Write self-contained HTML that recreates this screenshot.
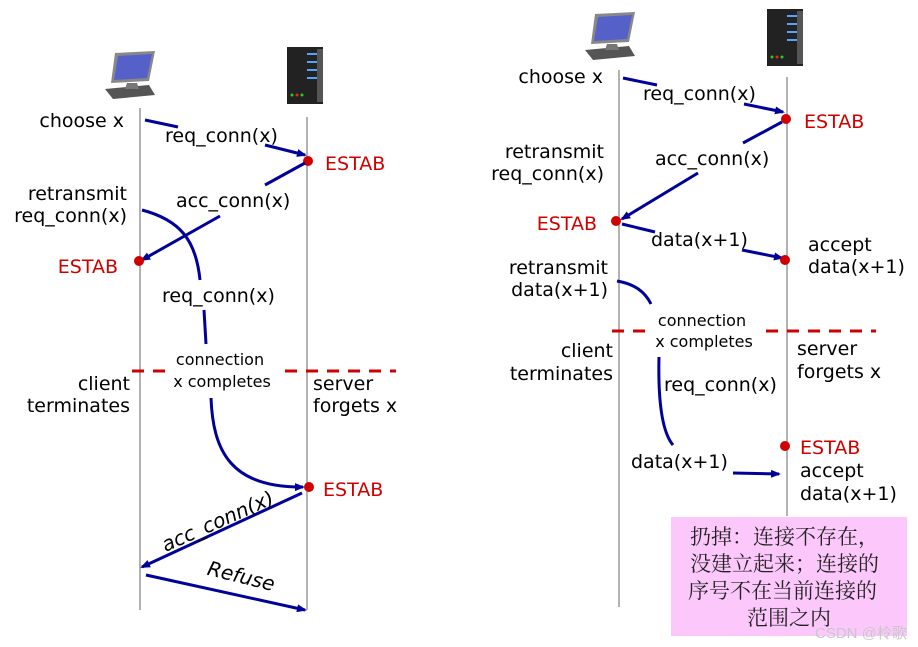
<!DOCTYPE html>
<html><head><meta charset="utf-8"><style>
body{margin:0;background:#fff}
svg{display:block}
text{font-family:"DejaVu Sans","Liberation Sans",sans-serif;font-size:19px;fill:#000}
.r{fill:#d00000}
.e{text-anchor:end}
.m{text-anchor:middle}
.s{font-size:16px}
.b{stroke:#00009a;stroke-width:3;fill:none}
.g{stroke:#999;stroke-width:1.5}
.d{stroke:#d00000;stroke-width:3;stroke-dasharray:12,9}
.cjk{font-family:"Noto Serif CJK SC","Noto Sans CJK SC",serif;font-size:21px;fill:#222}
</style></head><body>
<svg width="918" height="647" viewBox="0 0 918 647" xmlns="http://www.w3.org/2000/svg">
<defs>
<marker id="a" markerWidth="10" markerHeight="8" refX="8" refY="4" orient="auto" markerUnits="userSpaceOnUse"><path d="M0,0 L10,4 L0,8 z" fill="#00009a"/></marker>
<g id="pc">
<polygon points="12,2 52,0 46,30 8,32" fill="#888"/>
<polygon points="15,5 49,3 44,27 11,29" fill="#5560c8"/>
<polygon points="2,38 46,34 52,44 10,48" fill="#555"/>
<polygon points="24,32 34,32 36,38 22,38" fill="#777"/>
</g>
<g id="sv">
<rect x="0" y="0" width="36" height="57" fill="#222"/>
<rect x="30" y="2" width="6" height="53" fill="#555"/>
<rect x="20" y="6" width="10" height="2" fill="#5ba0ff"/>
<rect x="20" y="14" width="10" height="2" fill="#5ba0ff"/>
<rect x="20" y="22" width="10" height="2" fill="#5ba0ff"/>
<rect x="20" y="30" width="10" height="2" fill="#5ba0ff"/>
<circle cx="5" cy="48" r="1.5" fill="#2c2"/><circle cx="10" cy="48" r="1.5" fill="#e22"/><circle cx="15" cy="48" r="1.5" fill="#2c2"/>
</g>
</defs>

<!-- LEFT -->
<use href="#pc" x="103" y="51"/>
<use href="#sv" x="287" y="47"/>
<line class="g" x1="140" y1="108" x2="140" y2="610"/>
<line class="g" x1="307" y1="117" x2="307" y2="610"/>
<line class="d" x1="132" y1="371" x2="165" y2="371"/>
<line class="d" x1="285" y1="371" x2="396" y2="371"/>

<text class="e" x="124" y="127">choose x</text>
<line class="b" x1="145" y1="120" x2="178" y2="127"/>
<text x="165" y="142">req_conn(x)</text>
<line class="b" x1="265" y1="145" x2="305" y2="155" marker-end="url(#a)"/>
<circle cx="308" cy="161" r="5" fill="#d00000"/>
<text class="r" x="325" y="170">ESTAB</text>

<line class="b" x1="305" y1="163" x2="265" y2="185"/>
<text x="176" y="207">acc_conn(x)</text>
<line class="b" x1="220" y1="216" x2="142" y2="260" marker-end="url(#a)"/>
<circle cx="139" cy="261" r="5" fill="#d00000"/>
<text class="r e" x="118" y="273">ESTAB</text>

<text class="e" x="127" y="200">retransmit</text>
<text class="e" x="127" y="222">req_conn(x)</text>
<path class="b" d="M142,210 C180,220 196,240 200,280"/>
<text x="162" y="302">req_conn(x)</text>
<path class="b" d="M204,310 L206,344"/>
<text class="s m" x="220" y="365">connection</text>
<text class="s m" x="222" y="387">x completes</text>
<path class="b" d="M211,398 C213,450 230,488 303,487" marker-end="url(#a)"/>
<circle cx="309" cy="487" r="5" fill="#d00000"/>
<text class="r" x="323" y="496">ESTAB</text>

<text class="e" x="130" y="390">client</text>
<text class="e" x="130" y="412">terminates</text>
<text x="313" y="390">server</text>
<text x="313" y="412">forgets x</text>

<line class="b" x1="302" y1="493" x2="142" y2="567" marker-end="url(#a)"/>
<text x="218" y="528" class="m" style="font-style:italic;font-size:20px" transform="rotate(-24 218 522)">acc_conn(x)</text>
<line class="b" x1="146" y1="575" x2="305" y2="610" marker-end="url(#a)"/>
<text x="241" y="583" class="m" style="font-style:italic;font-size:20px" transform="rotate(14 241 577)">Refuse</text>

<!-- RIGHT -->
<use href="#pc" x="583" y="12"/>
<use href="#sv" x="767" y="9"/>
<line class="g" x1="619" y1="70" x2="619" y2="607"/>
<line class="g" x1="787" y1="77" x2="787" y2="516"/>
<line class="d" x1="612" y1="331" x2="645" y2="331"/>
<line class="d" x1="766" y1="331" x2="876" y2="331"/>

<text class="e" x="603" y="83">choose x</text>
<line class="b" x1="623" y1="78" x2="657" y2="85"/>
<text x="643" y="100">req_conn(x)</text>
<line class="b" x1="744" y1="104" x2="783" y2="112" marker-end="url(#a)"/>
<circle cx="786" cy="119" r="5" fill="#d00000"/>
<text class="r" x="804" y="128">ESTAB</text>

<line class="b" x1="782" y1="122" x2="743" y2="143"/>
<text x="655" y="165">acc_conn(x)</text>
<line class="b" x1="698" y1="173" x2="622" y2="219" marker-end="url(#a)"/>
<circle cx="616" cy="221" r="5" fill="#d00000"/>
<text class="r e" x="597" y="230">ESTAB</text>

<text class="e" x="604" y="158">retransmit</text>
<text class="e" x="604" y="180">req_conn(x)</text>

<line class="b" x1="622" y1="224" x2="655" y2="232"/>
<text x="651" y="246">data(x+1)</text>
<line class="b" x1="742" y1="250" x2="782" y2="258" marker-end="url(#a)"/>
<circle cx="785" cy="260" r="5" fill="#d00000"/>
<text x="808" y="251">accept</text>
<text x="808" y="273">data(x+1)</text>

<text class="e" x="608" y="274">retransmit</text>
<text class="e" x="608" y="296">data(x+1)</text>
<path class="b" d="M617,281 C635,284 645,292 651,304"/>
<text class="s m" x="702" y="326">connection</text>
<text class="s m" x="704" y="347">x completes</text>

<text class="e" x="613" y="357">client</text>
<text class="e" x="613" y="380">terminates</text>
<text x="797" y="355">server</text>
<text x="797" y="378">forgets x</text>

<path class="b" d="M659,357 C658,400 662,432 673,445"/>
<text x="664" y="391">req_conn(x)</text>
<circle cx="785" cy="446" r="5" fill="#d00000"/>
<text class="r" x="800" y="454">ESTAB</text>
<text x="800" y="477">accept</text>
<text x="800" y="500">data(x+1)</text>
<text x="631" y="468">data(x+1)</text>
<line class="b" x1="733" y1="473" x2="779" y2="474" marker-end="url(#a)"/>

<rect x="671" y="517" width="236" height="119" fill="#fcc8fc"/>
<text class="cjk" x="690" y="544">扔掉：连接不存在，</text>
<text class="cjk" x="690" y="571">没建立起来；连接的</text>
<text class="cjk" x="688" y="598">序号不在当前连接的</text>
<text class="cjk m" x="789" y="625">范围之内</text>
<text x="815" y="638" style="font-family:'Liberation Sans','Noto Sans CJK SC',sans-serif;font-size:15px;fill:#c8c8c8">CSDN @柃歌</text>
</svg>
</body></html>
